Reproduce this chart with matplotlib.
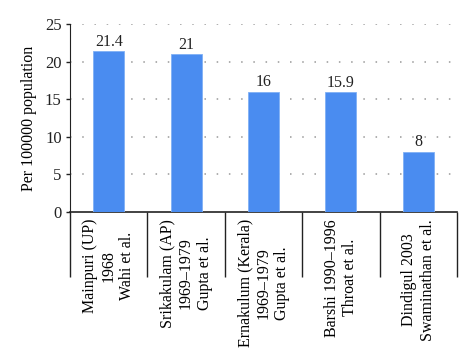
import matplotlib
matplotlib.use("Agg")
import matplotlib.pyplot as plt
import numpy as np

categories = ["Mainpuri (UP)\n1968\nWahi et al.",
              "Srikakulam (AP)\n1969–1979\nGupta et al.",
              "Ernakulum (Kerala)\n1969–1979\nGupta et al.",
              "Barshi 1990–1996\nThroat et al.",
              "Dindigul 2003\nSwaminathan et al."]
values = [21.4, 21, 16, 15.9, 8]
value_labels = ["21.4", "21", "16", "15.9", "8"]
yticks = [0, 5, 10, 15, 20, 25]

plt.rcParams['font.family'] = ['Liberation Serif', 'DejaVu Serif']

fig = plt.figure(figsize=(4.74, 3.61), dpi=100)
ax = fig.add_axes([70/474, 1 - 212/361, (457-70)/474, (212-24)/361])

x = np.arange(len(values))
ax.bar(x, values, width=0.4, color='#4A8CF0', edgecolor='#7FB0F5', linewidth=0.6, zorder=3)
for xi, v, lab in zip(x, values, value_labels):
    ax.text(xi, v + 0.2, lab, ha='center', va='bottom', fontsize=11.5, color='#222222')

ax.set_xlim(-0.5, len(values) - 0.5)
ax.set_ylim(0, 25)
ax.set_yticks(yticks)
ax.tick_params(axis='y', labelsize=12, length=3, width=1, direction='out', colors='#222222', pad=3)
for yv in yticks[1:]:
    ax.axhline(yv, color='#999999', linestyle=(0, (1, 7)), linewidth=1.1, zorder=1)

ax.set_xticks(x)
ax.set_xticklabels(categories, rotation=90, ha='center', va='top', multialignment='center', fontsize=11.5)
ax.tick_params(axis='x', which='major', length=0, pad=5)
ax.set_xticks(np.arange(-0.5, len(values)), minor=True)
ax.tick_params(axis='x', which='minor', length=47, width=1, direction='out', color='#222222')

for s in ['top', 'right']:
    ax.spines[s].set_visible(False)
ax.spines['left'].set_color('#222222')
ax.spines['bottom'].set_color('#222222')
ax.spines['bottom'].set_linewidth(1.2)

ax.set_ylabel("Per 100000 population", fontsize=11.5, labelpad=6)

fig.savefig("out.png", dpi=100)
